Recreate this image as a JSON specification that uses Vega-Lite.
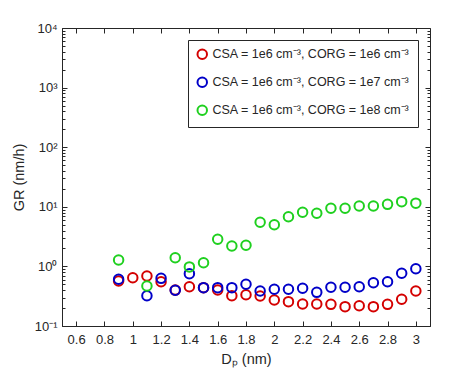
{
  "$schema": "https://vega.github.io/schema/vega-lite/v6.json",
  "width": 368,
  "height": 298,
  "autosize": "none",
  "padding": {"left": 62, "top": 28, "right": 44, "bottom": 50},
  "background": "white",
  "config": {
    "view": {"stroke": "#262626", "strokeWidth": 1},
    "font": "Liberation Sans",
    "axis": {
      "domainColor": "#262626",
      "tickColor": "#262626",
      "labelColor": "#262626",
      "titleColor": "#262626",
      "labelFont": "Liberation Sans",
      "titleFont": "Liberation Sans",
      "labelFontSize": 13,
      "titleFontSize": 14.5,
      "titleFontWeight": "normal",
      "grid": false
    }
  },
  "data": {
    "values": [
      {"d": 0.9, "gr": 0.569, "s": "CSA = 1e6 cm⁻³, CORG = 1e6 cm⁻³"},
      {"d": 1.0, "gr": 0.646, "s": "CSA = 1e6 cm⁻³, CORG = 1e6 cm⁻³"},
      {"d": 1.1, "gr": 0.69, "s": "CSA = 1e6 cm⁻³, CORG = 1e6 cm⁻³"},
      {"d": 1.2, "gr": 0.554, "s": "CSA = 1e6 cm⁻³, CORG = 1e6 cm⁻³"},
      {"d": 1.3, "gr": 0.4, "s": "CSA = 1e6 cm⁻³, CORG = 1e6 cm⁻³"},
      {"d": 1.4, "gr": 0.456, "s": "CSA = 1e6 cm⁻³, CORG = 1e6 cm⁻³"},
      {"d": 1.5, "gr": 0.44, "s": "CSA = 1e6 cm⁻³, CORG = 1e6 cm⁻³"},
      {"d": 1.6, "gr": 0.402, "s": "CSA = 1e6 cm⁻³, CORG = 1e6 cm⁻³"},
      {"d": 1.7, "gr": 0.322, "s": "CSA = 1e6 cm⁻³, CORG = 1e6 cm⁻³"},
      {"d": 1.8, "gr": 0.335, "s": "CSA = 1e6 cm⁻³, CORG = 1e6 cm⁻³"},
      {"d": 1.9, "gr": 0.319, "s": "CSA = 1e6 cm⁻³, CORG = 1e6 cm⁻³"},
      {"d": 2.0, "gr": 0.273, "s": "CSA = 1e6 cm⁻³, CORG = 1e6 cm⁻³"},
      {"d": 2.1, "gr": 0.256, "s": "CSA = 1e6 cm⁻³, CORG = 1e6 cm⁻³"},
      {"d": 2.2, "gr": 0.234, "s": "CSA = 1e6 cm⁻³, CORG = 1e6 cm⁻³"},
      {"d": 2.3, "gr": 0.234, "s": "CSA = 1e6 cm⁻³, CORG = 1e6 cm⁻³"},
      {"d": 2.4, "gr": 0.231, "s": "CSA = 1e6 cm⁻³, CORG = 1e6 cm⁻³"},
      {"d": 2.5, "gr": 0.211, "s": "CSA = 1e6 cm⁻³, CORG = 1e6 cm⁻³"},
      {"d": 2.6, "gr": 0.219, "s": "CSA = 1e6 cm⁻³, CORG = 1e6 cm⁻³"},
      {"d": 2.7, "gr": 0.211, "s": "CSA = 1e6 cm⁻³, CORG = 1e6 cm⁻³"},
      {"d": 2.8, "gr": 0.231, "s": "CSA = 1e6 cm⁻³, CORG = 1e6 cm⁻³"},
      {"d": 2.9, "gr": 0.281, "s": "CSA = 1e6 cm⁻³, CORG = 1e6 cm⁻³"},
      {"d": 3.0, "gr": 0.386, "s": "CSA = 1e6 cm⁻³, CORG = 1e6 cm⁻³"},
      {"d": 0.9, "gr": 0.608, "s": "CSA = 1e6 cm⁻³, CORG = 1e7 cm⁻³"},
      {"d": 1.1, "gr": 0.322, "s": "CSA = 1e6 cm⁻³, CORG = 1e7 cm⁻³"},
      {"d": 1.2, "gr": 0.631, "s": "CSA = 1e6 cm⁻³, CORG = 1e7 cm⁻³"},
      {"d": 1.3, "gr": 0.397, "s": "CSA = 1e6 cm⁻³, CORG = 1e7 cm⁻³"},
      {"d": 1.4, "gr": 0.755, "s": "CSA = 1e6 cm⁻³, CORG = 1e7 cm⁻³"},
      {"d": 1.5, "gr": 0.44, "s": "CSA = 1e6 cm⁻³, CORG = 1e7 cm⁻³"},
      {"d": 1.6, "gr": 0.44, "s": "CSA = 1e6 cm⁻³, CORG = 1e7 cm⁻³"},
      {"d": 1.7, "gr": 0.44, "s": "CSA = 1e6 cm⁻³, CORG = 1e7 cm⁻³"},
      {"d": 1.8, "gr": 0.501, "s": "CSA = 1e6 cm⁻³, CORG = 1e7 cm⁻³"},
      {"d": 1.9, "gr": 0.386, "s": "CSA = 1e6 cm⁻³, CORG = 1e7 cm⁻³"},
      {"d": 2.0, "gr": 0.413, "s": "CSA = 1e6 cm⁻³, CORG = 1e7 cm⁻³"},
      {"d": 2.1, "gr": 0.413, "s": "CSA = 1e6 cm⁻³, CORG = 1e7 cm⁻³"},
      {"d": 2.2, "gr": 0.429, "s": "CSA = 1e6 cm⁻³, CORG = 1e7 cm⁻³"},
      {"d": 2.3, "gr": 0.367, "s": "CSA = 1e6 cm⁻³, CORG = 1e7 cm⁻³"},
      {"d": 2.4, "gr": 0.446, "s": "CSA = 1e6 cm⁻³, CORG = 1e7 cm⁻³"},
      {"d": 2.5, "gr": 0.446, "s": "CSA = 1e6 cm⁻³, CORG = 1e7 cm⁻³"},
      {"d": 2.6, "gr": 0.456, "s": "CSA = 1e6 cm⁻³, CORG = 1e7 cm⁻³"},
      {"d": 2.7, "gr": 0.533, "s": "CSA = 1e6 cm⁻³, CORG = 1e7 cm⁻³"},
      {"d": 2.8, "gr": 0.554, "s": "CSA = 1e6 cm⁻³, CORG = 1e7 cm⁻³"},
      {"d": 2.9, "gr": 0.766, "s": "CSA = 1e6 cm⁻³, CORG = 1e7 cm⁻³"},
      {"d": 3.0, "gr": 0.915, "s": "CSA = 1e6 cm⁻³, CORG = 1e7 cm⁻³"},
      {"d": 0.9, "gr": 1.28, "s": "CSA = 1e6 cm⁻³, CORG = 1e8 cm⁻³"},
      {"d": 1.1, "gr": 0.47, "s": "CSA = 1e6 cm⁻³, CORG = 1e8 cm⁻³"},
      {"d": 1.3, "gr": 1.4, "s": "CSA = 1e6 cm⁻³, CORG = 1e8 cm⁻³"},
      {"d": 1.4, "gr": 0.98, "s": "CSA = 1e6 cm⁻³, CORG = 1e8 cm⁻³"},
      {"d": 1.5, "gr": 1.15, "s": "CSA = 1e6 cm⁻³, CORG = 1e8 cm⁻³"},
      {"d": 1.6, "gr": 2.85, "s": "CSA = 1e6 cm⁻³, CORG = 1e8 cm⁻³"},
      {"d": 1.7, "gr": 2.2, "s": "CSA = 1e6 cm⁻³, CORG = 1e8 cm⁻³"},
      {"d": 1.8, "gr": 2.26, "s": "CSA = 1e6 cm⁻³, CORG = 1e8 cm⁻³"},
      {"d": 1.9, "gr": 5.5, "s": "CSA = 1e6 cm⁻³, CORG = 1e8 cm⁻³"},
      {"d": 2.0, "gr": 5.01, "s": "CSA = 1e6 cm⁻³, CORG = 1e8 cm⁻³"},
      {"d": 2.1, "gr": 6.82, "s": "CSA = 1e6 cm⁻³, CORG = 1e8 cm⁻³"},
      {"d": 2.2, "gr": 8.09, "s": "CSA = 1e6 cm⁻³, CORG = 1e8 cm⁻³"},
      {"d": 2.3, "gr": 7.78, "s": "CSA = 1e6 cm⁻³, CORG = 1e8 cm⁻³"},
      {"d": 2.4, "gr": 9.44, "s": "CSA = 1e6 cm⁻³, CORG = 1e8 cm⁻³"},
      {"d": 2.5, "gr": 9.44, "s": "CSA = 1e6 cm⁻³, CORG = 1e8 cm⁻³"},
      {"d": 2.6, "gr": 10.3, "s": "CSA = 1e6 cm⁻³, CORG = 1e8 cm⁻³"},
      {"d": 2.7, "gr": 10.3, "s": "CSA = 1e6 cm⁻³, CORG = 1e8 cm⁻³"},
      {"d": 2.8, "gr": 11.0, "s": "CSA = 1e6 cm⁻³, CORG = 1e8 cm⁻³"},
      {"d": 2.9, "gr": 12.2, "s": "CSA = 1e6 cm⁻³, CORG = 1e8 cm⁻³"},
      {"d": 3.0, "gr": 11.5, "s": "CSA = 1e6 cm⁻³, CORG = 1e8 cm⁻³"}
    ]
  },
  "layer": [
    {
      "mark": {"type": "point", "shape": "circle", "filled": false, "size": 90, "strokeWidth": 2, "opacity": 1},
      "encoding": {
        "x": {
          "field": "d", "type": "quantitative",
          "scale": {"domain": [0.5, 3.1], "nice": false, "zero": false},
          "axis": {
            "title": "Dₚ (nm)",
            "values": [0.6, 0.8, 1, 1.2, 1.4, 1.6, 1.8, 2, 2.2, 2.4, 2.6, 2.8, 3],
            "format": "~g",
            "tickSize": -5,
            "labelPadding": 12,
            "titlePadding": 6,
            "labelFlush": false
          }
        },
        "y": {
          "field": "gr", "type": "quantitative",
          "scale": {"type": "log", "domain": [0.1, 10000], "nice": false},
          "axis": {
            "title": "GR (nm/h)",
            "values": [0.1,0.2,0.3,0.4,0.5,0.6,0.7,0.8,0.9,1,2,3,4,5,6,7,8,9,10,20,30,40,50,60,70,80,90,100,200,300,400,500,600,700,800,900,1000,2000,3000,4000,5000,6000,7000,8000,9000,10000],
            "labelExpr": "datum.value == 0.1 ? '10⁻¹' : datum.value == 1 ? '10⁰' : datum.value == 10 ? '10¹' : datum.value == 100 ? '10²' : datum.value == 1000 ? '10³' : datum.value == 10000 ? '10⁴' : ''",
            "tickSize": {"condition": {"test": "indexof([0.1,1,10,100,1000,10000], datum.value) >= 0", "value": -5}, "value": -3},
            "labelPadding": 10,
            "titlePadding": 8,
            "labelFlush": false
          }
        },
        "color": {
          "field": "s", "type": "nominal",
          "scale": {
            "domain": ["CSA = 1e6 cm⁻³, CORG = 1e6 cm⁻³", "CSA = 1e6 cm⁻³, CORG = 1e7 cm⁻³", "CSA = 1e6 cm⁻³, CORG = 1e8 cm⁻³"],
            "range": ["#d40000", "#0000c8", "#1fd01f"]
          },
          "legend": {
            "title": null,
            "orient": "top-right",
            "offset": 12,
            "strokeColor": "#262626",
            "fillColor": "white",
            "padding": 8,
            "cornerRadius": 0,
            "labelFontSize": 12.5,
            "labelFont": "Liberation Sans",
            "labelColor": "#262626",
            "labelLimit": 300,
            "symbolSize": 90,
            "symbolStrokeWidth": 2,
            "symbolType": "circle",
            "rowPadding": 10
          }
        }
      }
    },
    {
      "mark": {"type": "point", "opacity": 0},
      "encoding": {
        "x": {
          "field": "d", "type": "quantitative",
          "axis": {
            "orient": "top", "title": null, "labels": false, "domain": false,
            "values": [0.6, 0.8, 1, 1.2, 1.4, 1.6, 1.8, 2, 2.2, 2.4, 2.6, 2.8, 3],
            "tickSize": -5
          }
        },
        "y": {
          "field": "gr", "type": "quantitative",
          "axis": {
            "orient": "right", "title": null, "labels": false, "domain": false,
            "values": [0.1,0.2,0.3,0.4,0.5,0.6,0.7,0.8,0.9,1,2,3,4,5,6,7,8,9,10,20,30,40,50,60,70,80,90,100,200,300,400,500,600,700,800,900,1000,2000,3000,4000,5000,6000,7000,8000,9000,10000],
            "tickSize": {"condition": {"test": "indexof([0.1,1,10,100,1000,10000], datum.value) >= 0", "value": -5}, "value": -3}
          }
        }
      }
    }
  ],
  "resolve": {"axis": {"x": "independent", "y": "independent"}}
}
